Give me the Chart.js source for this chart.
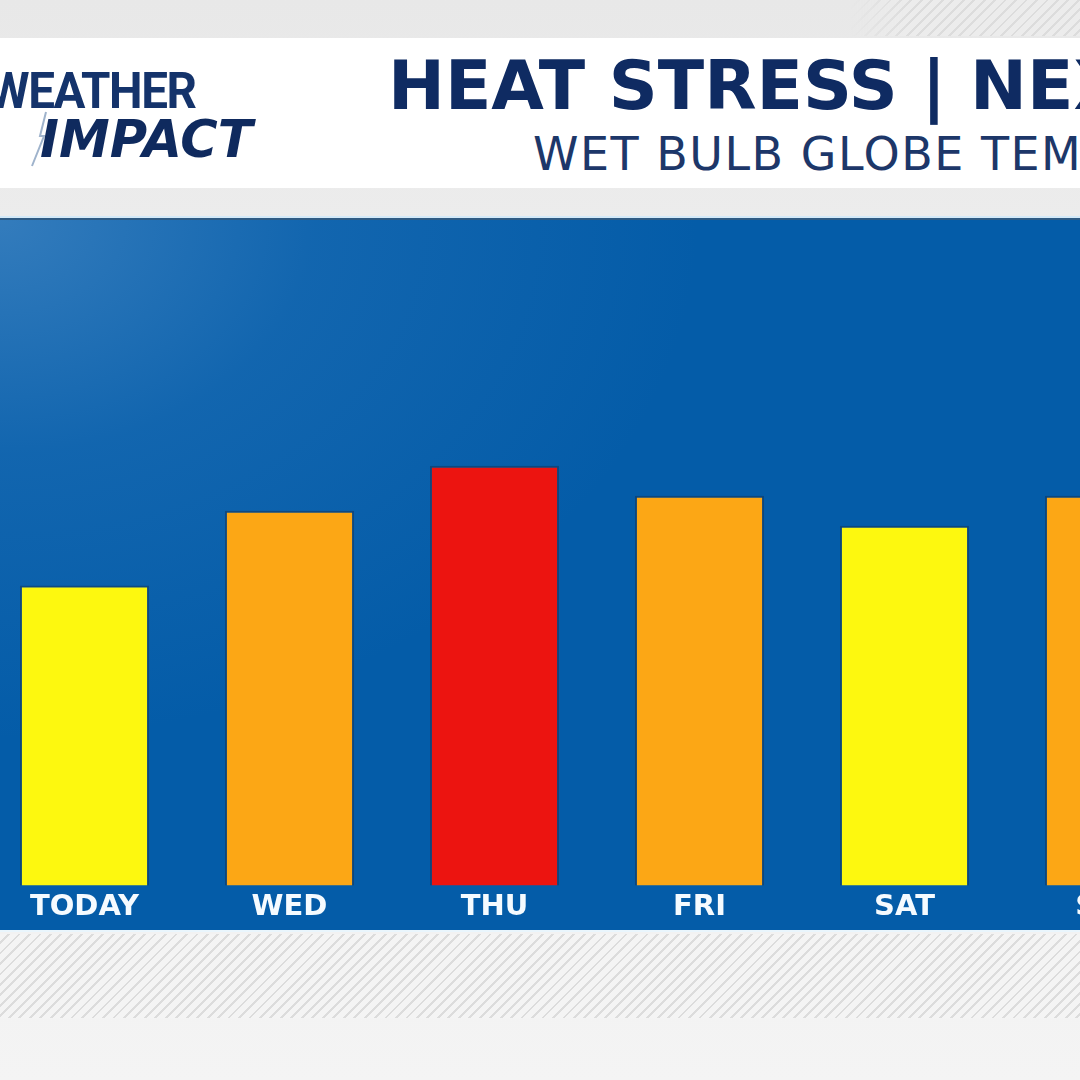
<!DOCTYPE html>
<html>
<head>
  <meta charset="UTF-8">
  <title>Heat Stress | Next 7 Days</title>
  <script src="https://cdn.jsdelivr.net/npm/chart.js"></script>
  <style>
    html, body {
      margin: 0;
      padding: 0;
    }
    body {
      width: 1080px;
      height: 1080px;
      position: relative;
      overflow: hidden;
      background: linear-gradient(180deg, #e8e8e8 0px, #ececec 220px, #f2f2f2 930px, #f4f4f4 1080px);
      font-family: "DejaVu Sans", sans-serif;
    }
    .stripes-top {
      position: absolute;
      left: 850px; top: 0;
      width: 230px; height: 36px;
      background: repeating-linear-gradient(135deg, #ececec 0px, #ececec 5.4px, #dcdcdc 5.4px, #dcdcdc 7.4px);
      -webkit-mask-image: linear-gradient(90deg, transparent 0px, #000 60px);
      mask-image: linear-gradient(90deg, transparent 0px, #000 60px);
    }
    .stripes-bottom {
      position: absolute;
      left: 0; top: 934px;
      width: 1080px; height: 84px;
      background: repeating-linear-gradient(135deg, #f4f4f4 0px, #f4f4f4 5.4px, #dcdcdc 5.4px, #dcdcdc 7.4px);
    }
    .header {
      position: absolute;
      left: 0; top: 38px;
      width: 1080px; height: 150px;
      background: #ffffff;
    }
    .logo-weather {
      position: absolute;
      left: -12px; top: 28px;
      font-family: Roboto, sans-serif;
      font-weight: 700;
      font-size: 50px;
      line-height: 1;
      letter-spacing: -1.5px;
      color: #14336b;
      transform: scaleX(0.95);
      transform-origin: left top;
      white-space: nowrap;
    }
    .logo-impact {
      position: absolute;
      left: 40px; top: 76px;
      font-family: "DejaVu Sans", sans-serif;
      font-weight: bold;
      font-style: italic;
      font-size: 51px;
      line-height: 1;
      color: #0f2a5e;
      white-space: nowrap;
    }
    .bolt {
      position: absolute;
      left: 26px; top: 72px;
    }
    .title {
      position: absolute;
      left: 388px; top: 14px;
      font-weight: bold;
      font-size: 68px;
      line-height: 1;
      color: #0f2b62;
      white-space: nowrap;
    }
    .subtitle {
      position: absolute;
      left: 533px; top: 93px;
      font-weight: normal;
      font-size: 46px;
      line-height: 1;
      letter-spacing: 1.5px;
      color: #1d3769;
      white-space: nowrap;
    }
    .panel {
      position: absolute;
      left: 0; top: 218px;
      width: 1080px; height: 712px;
      overflow: hidden;
      background:
        radial-gradient(ellipse 700px 520px at 0px 0px, rgba(90,150,205,0.55) 0%, rgba(60,130,195,0.25) 45%, rgba(5,92,168,0) 100%),
        #045ca8;
      border-top: 2px solid #2f5b83;
      box-shadow: 0 -2px 0 #d3e9f8, 0 2px 0 #e9f5fc;
      box-sizing: border-box;
    }
    #chart {
      position: absolute;
      left: -18px; top: -2px;
    }
  </style>
</head>
<body>
  <div class="stripes-top"></div>
  <div class="stripes-bottom"></div>

  <div class="header">
    <div class="logo-weather">WEATHER</div>
    <svg class="bolt" width="30" height="60">
      <polyline points="20,2 14,26 18,26 6,56" fill="none" stroke="#9fb3cc" stroke-width="2"/>
    </svg>
    <div class="logo-impact">IMPACT</div>
    <div class="title">HEAT STRESS | NEXT 7 DAYS</div>
    <div class="subtitle">WET BULB GLOBE TEMPERATURE</div>
  </div>

  <div class="panel">
    <canvas id="chart" width="1230" height="712"></canvas>
  </div>

  <script>
    // days shown along the bottom
    const days = ['TODAY', 'WED', 'THU', 'FRI', 'SAT', 'SUN'];
    // wet bulb globe temperature (°F)
    const wbgt = [80, 85, 88, 86, 84, 86];
    // value range of the hidden y axis
    const yMin = 60;
    const yMax = 104;

    function barColor(v) {
      if (v >= 88) return '#ec1410';
      if (v >= 85) return '#fca715';
      return '#fdf80f';
    }

    const ctx = document.getElementById('chart').getContext('2d');
    const chart = new Chart(ctx, {
      type: 'bar',
      data: {
        labels: days,
        datasets: [{
          data: wbgt,
          backgroundColor: wbgt.map(barColor),
          borderColor: 'rgba(25,45,70,0.45)',
          borderWidth: 2,
          borderSkipped: false,
          barPercentage: 0.63,
          categoryPercentage: 1
        }]
      },
      options: {
        responsive: false,
        animation: false,
        devicePixelRatio: 1,
        layout: { padding: { top: 8, left: 0, right: 0, bottom: 0 } },
        plugins: {
          legend: { display: false },
          tooltip: { enabled: false }
        },
        scales: {
          x: {
            grid: { display: false, drawTicks: false, tickLength: 0 },
            border: { display: false },
            ticks: {
              color: '#f5fbff',
              padding: 5,
              maxRotation: 0,
              autoSkip: false,
              font: { family: '"DejaVu Sans", sans-serif', weight: 'bold', size: 29, lineHeight: 1.2 }
            }
          },
          y: {
            display: false,
            min: yMin,
            max: yMax
          }
        }
      }
    });
  </script>
</body>
</html>
